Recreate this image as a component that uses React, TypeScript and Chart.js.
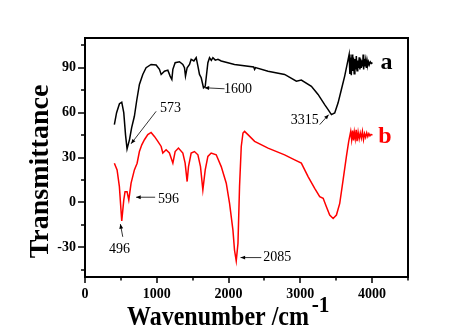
import React, { useEffect, useRef } from 'react';
import { Chart, registerables } from 'chart.js';

Chart.register(...registerables);

// Series a (black)
const aWavenumber = [
  409, 440, 480, 512, 540, 565, 586, 620, 650, 688, 720, 758, 805, 851, 921, 991, 1037, 1061,
  1107, 1154, 1186, 1210, 1224, 1256, 1316, 1363, 1386, 1400, 1423, 1456, 1479, 1517, 1549,
  1573, 1595, 1619, 1651, 1675, 1712, 1735, 1760, 1782, 1815, 1852, 1898, 2083, 2350, 2363,
  2376, 2550, 2781, 2945, 3014, 3154, 3247, 3339, 3387, 3433, 3479, 3526, 3572, 3618, 3666,
  3680, 3690, 3700, 3710, 3720, 3730, 3740, 3750, 3760, 3770, 3780, 3790, 3800, 3810, 3820,
  3830, 3840, 3850, 3860, 3868, 3875, 3882, 3890, 3900, 3910, 3920, 3930, 3940, 3950, 3960,
  3975, 3990, 4005,
];
const aTransmittance = [
  52.0, 60.0, 66.0, 67.0, 60.0, 45.0, 35.8, 42.0, 50.0, 57.6, 68.0, 78.9, 85.6, 90.1, 92.3, 91.9,
  89.0, 85.6, 87.8, 88.5, 84.5, 82.3, 89.0, 93.5, 94.1, 92.3, 90.1, 84.5, 90.1, 92.3, 95.7,
  94.6, 96.8, 91.2, 85.6, 83.4, 76.7, 77.7, 93.5, 96.8, 95.0, 96.8, 95.2, 95.7, 94.6, 92.3,
  90.6, 89.0, 90.2, 87.8, 85.6, 81.1, 81.8, 77.7, 72.2, 65.4, 62.1, 58.7, 59.8, 66.6, 75.5,
  84.5, 95.7, 99.0, 86.0, 97.0, 85.0, 99.0, 88.0, 97.0, 86.0, 96.0, 89.0, 98.0, 88.0, 95.0,
  90.0, 97.0, 89.0, 96.0, 90.0, 95.0, 91.0, 99.0, 89.0, 96.0, 91.0, 95.0, 90.0, 95.0, 92.0,
  94.0, 92.0, 94.0, 93.0, 93.5, 93.0,
];

// Series b (red)
const bWavenumber = [
  409, 447, 479, 512, 540, 558, 586, 610, 642, 688, 726, 758, 791, 828, 875, 921, 967, 1015,
  1061, 1084, 1130, 1176, 1200, 1224, 1256, 1302, 1363, 1395, 1423, 1442, 1479, 1525, 1573,
  1609, 1642, 1675, 1712, 1758, 1828, 1898, 1968, 2014, 2061, 2083, 2107, 2131, 2153, 2177,
  2201, 2223, 2270, 2363, 2550, 2781, 2921, 3014, 3108, 3200, 3270, 3318, 3363, 3409, 3457,
  3503, 3549, 3596, 3642, 3674, 3702, 3715, 3728, 3740, 3752, 3765, 3778, 3790, 3805, 3820,
  3835, 3850, 3865, 3880, 3895, 3910, 3925, 3940, 3955, 3970, 3985, 4005,
];
const bTransmittance = [
  26.2, 21.7, 10.5, -12.5, 1.5, 7.1, 7.1, 1.5, 12.8, 21.7, 26.2, 34.0, 38.5, 41.9, 45.3, 46.8,
  44.1, 40.8, 37.4, 33.0, 35.2, 33.0, 29.6, 26.2, 34.0, 36.3, 33.0, 26.2, 13.9, 23.9, 33.0,
  34.0, 31.8, 23.9, 8.3, 21.7, 30.7, 33.0, 31.8, 23.9, 12.8, -0.7, -18.6, -32.1, -39.2, -27.6,
  10.5, 37.4, 46.4, 47.5, 45.3, 40.8, 36.3, 31.8, 28.4, 26.2, 17.2, 9.4, 3.8, 2.7, -3.0, -8.5,
  -10.8, -8.5, -0.7, 15.0, 30.7, 40.8, 47.5, 42.0, 48.0, 41.5, 47.0, 42.5, 48.5, 41.0, 47.0,
  42.5, 46.5, 43.0, 47.5, 42.0, 46.0, 43.5, 46.5, 44.0, 46.0, 44.5, 45.5, 45.0,
];

const xMajorTicks = [0, 1000, 2000, 3000, 4000];
const xAllTicks = [0, 500, 1000, 1500, 2000, 2500, 3000, 3500, 4000, 4500];
const yMajorTicks = [-30, 0, 30, 60, 90];
const yAllTicks = [-45, -30, -15, 0, 15, 30, 45, 60, 75, 90, 105];

const xTitle = 'Wavenumber /cm';
const xTitleSup = '-1';
const yTitle = 'Transmittance';
const seriesNames = ['a', 'b'];
const seriesColors = ['#000000', '#ff0000'];

// peak annotations: label text, text position and arrow (data coordinates)
const peakLabels = ['573', '1600', '3315', '596', '496', '2085'];
const peakTextPos = [[1190, 62.7], [2131, 75.5], [3060, 54.9], [1162, 2], [479, -31.6], [2679, -37]];
const peakArrowFrom = [[991, 60.9], [1944, 76], [3270, 52], [977, 3.4], [526, -23.1], [2456, -37]];
const peakArrowTo = [[642, 39.2], [1665, 76.7], [3395, 58.7], [712, 3.4], [493, -14.6], [2167, -37]];
const seriesLabelPos = [[4200, 93.5], [4177, 43.7]];

const SERIF = '"Liberation Serif", "Times New Roman", serif';

const decorPlugin = {
  id: 'decor',
  afterDraw(chart: any) {
    const { ctx, chartArea: a } = chart;
    const xs = chart.scales.x;
    const ys = chart.scales.y;
    ctx.save();
    ctx.strokeStyle = '#000';
    ctx.fillStyle = '#000';
    // frame
    ctx.lineWidth = 2;
    ctx.strokeRect(a.left, a.top, a.right - a.left, a.bottom - a.top);
    // ticks
    ctx.lineWidth = 1.5;
    ctx.beginPath();
    xAllTicks.forEach((v) => {
      const px = Math.round(xs.getPixelForValue(v));
      const len = xMajorTicks.includes(v) ? 6 : 3.5;
      ctx.moveTo(px, a.bottom);
      ctx.lineTo(px, a.bottom + len);
    });
    yAllTicks.forEach((v) => {
      const py = Math.round(ys.getPixelForValue(v));
      const len = yMajorTicks.includes(v) ? 7 : 4;
      ctx.moveTo(a.left, py);
      ctx.lineTo(a.left - len, py);
    });
    ctx.stroke();

    // y title
    ctx.save();
    ctx.translate(41, (a.top + a.bottom) / 2 + 14);
    ctx.rotate(-Math.PI / 2);
    ctx.font = `bold 28px ${SERIF}`;
    ctx.textAlign = 'center';
    ctx.textBaseline = 'middle';
    ctx.fillText(yTitle, 0, 0);
    ctx.restore();

    // x title with superscript (slightly condensed like the reference)
    ctx.save();
    ctx.font = `bold 27px ${SERIF}`;
    ctx.textBaseline = 'alphabetic';
    ctx.textAlign = 'left';
    const startX = 127;
    const baseY = 325;
    const w = ctx.measureText(xTitle).width;
    const sx = 182 / w;
    ctx.translate(startX, baseY);
    ctx.scale(sx, 1);
    ctx.fillText(xTitle, 0, 0);
    ctx.font = `bold 24px ${SERIF}`;
    ctx.fillText(xTitleSup, w + 3, -13);
    ctx.restore();

    // peak annotations
    ctx.font = `14px ${SERIF}`;
    ctx.textAlign = 'center';
    ctx.textBaseline = 'middle';
    ctx.lineWidth = 0.8;
    peakLabels.forEach((t, i) => {
      const tx = xs.getPixelForValue(peakTextPos[i][0]);
      const ty = ys.getPixelForValue(peakTextPos[i][1]);
      ctx.fillText(t, tx, ty);
      const x1 = xs.getPixelForValue(peakArrowFrom[i][0]);
      const y1 = ys.getPixelForValue(peakArrowFrom[i][1]);
      const x2 = xs.getPixelForValue(peakArrowTo[i][0]);
      const y2 = ys.getPixelForValue(peakArrowTo[i][1]);
      ctx.beginPath();
      ctx.moveTo(x1, y1);
      ctx.lineTo(x2, y2);
      ctx.stroke();
      const ang = Math.atan2(y2 - y1, x2 - x1);
      const hl = 5;
      ctx.beginPath();
      ctx.moveTo(x2, y2);
      ctx.lineTo(x2 - hl * Math.cos(ang - 0.4), y2 - hl * Math.sin(ang - 0.4));
      ctx.lineTo(x2 - hl * Math.cos(ang + 0.4), y2 - hl * Math.sin(ang + 0.4));
      ctx.closePath();
      ctx.fill();
    });

    // series labels
    ctx.font = `bold 24px ${SERIF}`;
    seriesNames.forEach((n, i) => {
      ctx.fillStyle = seriesColors[i];
      ctx.fillText(n, xs.getPixelForValue(seriesLabelPos[i][0]), ys.getPixelForValue(seriesLabelPos[i][1]));
    });
    ctx.restore();
  },
};

export default function App() {
  const ref = useRef<HTMLCanvasElement>(null);
  useEffect(() => {
    if (!ref.current) return;
    const chart = new Chart(ref.current, {
      type: 'line',
      data: {
        datasets: [
          {
            label: seriesNames[0],
            data: aWavenumber.map((x, i) => ({ x, y: aTransmittance[i] })),
            borderColor: seriesColors[0],
            borderWidth: 1.5,
            pointRadius: 0,
            tension: 0,
          },
          {
            label: seriesNames[1],
            data: bWavenumber.map((x, i) => ({ x, y: bTransmittance[i] })),
            borderColor: seriesColors[1],
            borderWidth: 1.5,
            pointRadius: 0,
            tension: 0,
          },
        ],
      },
      options: {
        animation: false,
        responsive: false,
        devicePixelRatio: 1,
        layout: { padding: { top: 38, right: 66, left: 0, bottom: 0 } },
        plugins: { legend: { display: false }, tooltip: { enabled: false } },
        scales: {
          x: {
            type: 'linear',
            min: 0,
            max: 4500,
            afterBuildTicks: (s: any) => {
              s.ticks = xAllTicks.map((v) => ({ value: v }));
            },
            afterFit: (s: any) => {
              s.height = 55;
            },
            grid: { display: false, drawTicks: false },
            border: { display: false },
            ticks: {
              autoSkip: false,
              maxRotation: 0,
              padding: 9,
              color: '#000',
              font: { family: SERIF, size: 14, weight: 'bold' },
              callback: (v: any) => (xMajorTicks.includes(Number(v)) ? String(v) : ''),
            },
          },
          y: {
            type: 'linear',
            min: -50,
            max: 110,
            afterBuildTicks: (s: any) => {
              s.ticks = yAllTicks.map((v) => ({ value: v }));
            },
            afterFit: (s: any) => {
              s.width = 85;
            },
            grid: { display: false, drawTicks: false },
            border: { display: false },
            ticks: {
              autoSkip: false,
              padding: 9,
              color: '#000',
              font: { family: SERIF, size: 14, weight: 'bold' },
              callback: (v: any) => (yMajorTicks.includes(Number(v)) ? String(v) : ''),
            },
          },
        },
      },
      plugins: [decorPlugin],
    });
    return () => chart.destroy();
  }, []);
  return (
    <div style={{ position: 'fixed', left: 0, top: 0, width: 474, height: 332, background: '#fff' }}>
      <canvas ref={ref} width={474} height={332} style={{ display: 'block' }} />
    </div>
  );
}
